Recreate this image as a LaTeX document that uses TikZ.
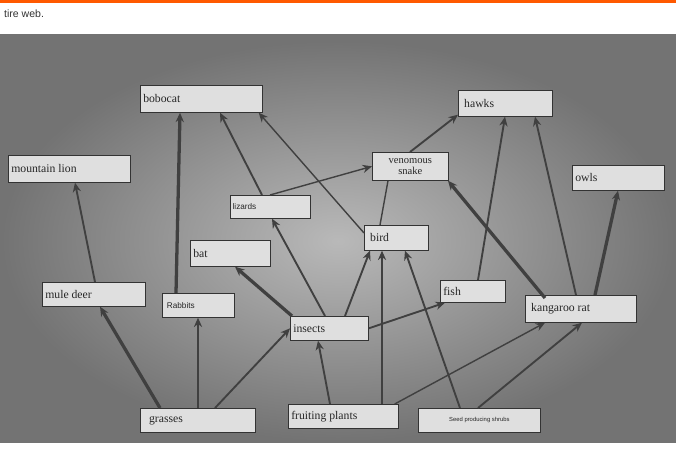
\documentclass[tikz,border=0pt]{standalone}
\usepackage{fontspec}
\setmainfont{Liberation Serif}
\newfontfamily\sansf{Liberation Sans}
\usetikzlibrary{arrows.meta,calc}
\begin{document}
\begin{tikzpicture}[x=0.03cm,y=-0.03cm,
  sp/.style={draw=black!80,fill=gray!25,line width=0.6pt,inner sep=0pt,anchor=north west,text=black!85,align=left},
  ar/.style={-{Stealth[length=8pt,width=7pt]},line width=1.6pt,draw=black!75},
  ar2/.style={ar,line width=2.8pt}]
\useasboundingbox (0,0) rectangle (676,456);
\fill[white] (0,0) rectangle (676,456);
\fill[orange!70!red] (0,0) rectangle (676,3);
\node[anchor=west,font=\sansf\small,text=black!80] (t) at (0,14) {tire web.};
\fill[black!55] (0,34) rectangle (676,442);
\shade[inner color=gray!55,outer color=black!55] (0,40) rectangle (676,442);
\newcommand{\bx}[4]{\parbox[t][#2\dimexpr0.03cm\relax][c]{#1\dimexpr0.03cm\relax}{#3#4}}
\node[sp] (bob) at (140,85) {\bx{122}{27}{\ }{bobocat}};
\node[sp] (hawk) at (458,90) {\bx{94}{26}{\ \ }{hawks}};
\node[sp] (lion) at (8,155) {\bx{122}{27}{\ }{mountain lion}};
\node[sp,font=\small] (snake) at (372,152) {\bx{76}{28}{\centering\fontsize{9}{9}\selectfont}{venomous\\snake}};
\node[sp] (owl) at (572,165) {\bx{92}{25}{\ }{owls}};
\node[sp,font=\sansf\scriptsize] (liz) at (230,195) {\bx{80}{23}{\ }{lizards}};
\node[sp] (bird) at (364,225) {\bx{64}{25}{\ \ }{bird}};
\node[sp] (bat) at (190,240) {\bx{80}{26}{\ }{bat}};
\node[sp] (deer) at (42,282) {\bx{103}{24}{\ }{mule deer}};
\node[sp,font=\sansf\scriptsize] (rab) at (162,293) {\bx{72}{24}{\ \ }{Rabbits}};
\node[sp] (fish) at (440,280) {\bx{65}{22}{\ }{fish}};
\node[sp] (kr) at (525,295) {\bx{111}{27}{\ \ }{kangaroo rat}};
\node[sp] (ins) at (290,316) {\bx{78}{24}{\ }{insects}};
\node[sp] (gr) at (140,408) {\bx{115}{24}{\ \ \ }{grasses}};
\node[sp] (fp) at (288,404) {\bx{110}{24}{\ }{fruiting plants}};
\node[sp,font=\sansf\tiny] (sh) at (418,408) {\bx{122}{24}{\centering}{Seed producing shrubs}};
\draw[ar] ($(deer.north west)+(53,0)$) -- ($(lion.south west)+(67,0)$);
\draw[ar2] ($(gr.north west)+(20,0)$) -- ($(deer.south west)+(58,0)$);
\draw[ar] ($(gr.north west)+(58,0)$) -- ($(rab.south west)+(36,0)$);
\draw[ar] ($(gr.north west)+(75,0)$) -- (ins.west);
\draw[ar2] ($(rab.north west)+(14,0)$) -- ($(bob.south west)+(40,0)$);
\draw[ar] ($(liz.north west)+(32,0)$) -- ($(bob.south west)+(80,0)$);
\draw[ar,line width=1.2pt] ($(bird.north west)+(0,8)$) -- ($(bob.south east)+(-4,0)$);
\draw[ar] ($(ins.north west)+(35,0)$) -- ($(liz.south west)+(42,0)$);
\draw[ar2] ($(ins.north west)+(2,0)$) -- ($(bat.south west)+(45,0)$);
\draw[ar] ($(ins.north west)+(55,0)$) -- ($(bird.south west)+(6,0)$);
\draw[ar] (ins.east) -- ($(fish.south west)+(5,0)$);
\draw[ar,line width=1.2pt] ($(liz.north west)+(40,0)$) -- (snake.west);
\draw[ar] ($(snake.north west)+(38,0)$) -- ($(hawk.south west)+(0,-2)$);
\draw[line width=1.2pt,draw=black!75] ($(bird.north west)+(16,0)$) -- ($(snake.south west)+(16,0)$);
\draw[ar] ($(fish.north west)+(38,0)$) -- ($(hawk.south west)+(47,0)$);
\draw[ar] ($(kr.north west)+(51,0)$) -- ($(hawk.south west)+(77,0)$);
\draw[ar2] ($(kr.north west)+(20,3)$) -- ($(snake.south west)+(76,0)$);
\draw[ar2] ($(kr.north west)+(70,0)$) -- ($(owl.south west)+(46,0)$);
\draw[ar] ($(fp.north west)+(42,0)$) -- ($(ins.south west)+(28,0)$);
\draw[ar] ($(fp.north west)+(94,0)$) -- ($(bird.south west)+(18,0)$);
\draw[ar,line width=1.2pt] ($(fp.north east)+(-4,0)$) -- ($(kr.south west)+(20,0)$);
\draw[ar] ($(sh.north west)+(42,0)$) -- ($(bird.south west)+(41,0)$);
\draw[ar] ($(sh.north west)+(60,0)$) -- ($(kr.south west)+(57,0)$);
\end{tikzpicture}
\end{document}
